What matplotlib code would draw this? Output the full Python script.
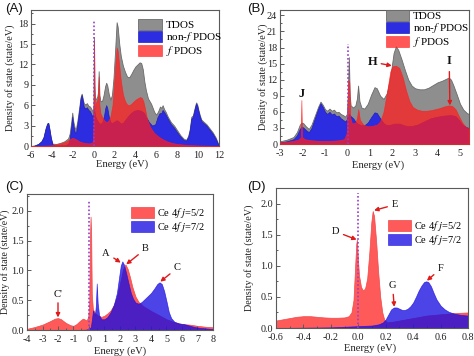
import matplotlib
matplotlib.use('Agg')
import matplotlib.pyplot as plt
from matplotlib.ticker import MultipleLocator, FormatStrFormatter

plt.rcParams['font.family'] = ['Liberation Serif', 'DejaVu Serif']
plt.rcParams['mathtext.fontset'] = 'stix'
plt.rcParams['axes.unicode_minus'] = False

# ---------------- Panel A data (energy eV, DOS state/eV) ----------------
a_tdos_x = [-6, -5.7, -5.3, -5.0, -4.8, -4.6, -4.45, -4.35, -4.25, -4.1, -3.95, -3.6, -3.2, -2.8, -2.45,
            -2.3, -2.15, -2.05, -1.95, -1.8, -1.7, -1.55, -1.4, -1.25, -1.15, -1.05, -0.95, -0.8, -0.65,
            -0.5, -0.35, -0.2, -0.08, -0.02, 0.03, 0.08, 0.13, 0.25, 0.35, 0.42, 0.48, 0.55, 0.65, 0.8,
            0.95, 1.1, 1.2, 1.3, 1.45, 1.6, 1.75, 1.9, 2.05, 2.2, 2.3, 2.45, 2.6, 2.8, 3.0, 3.2, 3.4, 3.6,
            3.8, 4.0, 4.2, 4.4, 4.55, 4.7, 4.85, 5.0, 5.2, 5.5, 5.8, 6.0, 6.2, 6.35, 6.5, 6.6, 6.75, 6.9,
            7.1, 7.4, 7.7, 8.0, 8.3, 8.6, 8.85, 9.05, 9.2, 9.35, 9.5, 9.65, 9.8, 9.9, 10.0, 10.15, 10.3,
            10.5, 10.8, 11.1, 11.4, 11.7, 11.9, 12.0]
a_tdos_y = [0, 0.05, 0.3, 0.7, 1.3, 2.6, 3.3, 3.4, 2.6, 1.2, 0.35, 0.3, 0.45, 0.7, 1.1,
            1.8, 3.5, 4.9, 3.6, 2.6, 2.5, 3.8, 5.5, 7.2, 7.7, 7.0, 6.3, 6.1, 6.3,
            5.9, 5.8, 5.4, 5.0, 6.0, 16.0, 9.0, 6.8, 7.0, 7.3, 8.0, 11.0, 7.5, 6.6, 6.6,
            7.5, 8.8, 9.3, 8.9, 7.6, 6.8, 7.5, 10.0, 14.0, 18.2, 17.5, 15.0, 13.2, 11.8, 10.9, 10.2, 10.1, 10.6,
            11.2, 11.7, 12.0, 12.3, 12.2, 11.3, 9.5, 8.2, 7.0, 6.2, 5.0, 4.6, 5.2, 5.8, 5.6, 6.0, 5.4, 5.0,
            4.3, 3.5, 3.0, 2.3, 1.6, 1.1, 0.9, 1.5, 2.5, 4.3, 4.5, 5.5, 6.4, 6.2, 5.5, 4.6, 3.9,
            3.6, 3.2, 2.6, 2.0, 1.2, 0.4, 0.0]

a_nonf_x = [-6, -5.7, -5.3, -5.0, -4.8, -4.6, -4.45, -4.35, -4.25, -4.1, -3.95, -3.6, -3.2, -2.8, -2.45,
            -2.3, -2.15, -2.05, -1.95, -1.8, -1.7, -1.55, -1.4, -1.25, -1.15, -1.05, -0.95, -0.8, -0.65,
            -0.5, -0.35, -0.2, -0.08, -0.02, 0.03, 0.13, 0.25, 0.4, 0.55, 0.7, 0.85, 1.0, 1.1, 1.2, 1.3,
            1.45, 1.6, 1.8, 2.0, 2.2, 2.4, 2.6, 2.8, 3.0, 3.3, 3.6, 3.9, 4.2, 4.5, 4.8, 5.0, 5.3, 5.6,
            5.9, 6.1, 6.3, 6.5, 6.6, 6.75, 6.9, 7.1, 7.4, 7.7, 8.0, 8.3, 8.6, 8.85, 9.05, 9.2, 9.35, 9.5,
            9.65, 9.8, 9.9, 10.0, 10.15, 10.3, 10.5, 10.8, 11.1, 11.4, 11.7, 11.9, 12.0]
a_nonf_y = [0, 0.05, 0.3, 0.7, 1.3, 2.6, 3.3, 3.4, 2.6, 1.2, 0.25, 0.1, 0.1, 0.1, 0.3,
            1.0, 2.8, 4.3, 3.0, 2.0, 1.9, 3.3, 5.0, 7.0, 7.5, 6.7, 5.8, 5.5, 5.7,
            5.3, 5.1, 4.6, 4.2, 4.8, 5.5, 4.5, 4.0, 3.6, 3.3, 3.3, 3.6, 4.5, 5.5, 6.0, 5.6,
            4.3, 3.5, 3.4, 3.6, 3.8, 3.6, 3.3, 3.4, 3.8, 4.4, 4.9, 5.2, 5.3, 5.2, 4.9, 4.3, 3.5, 3.0,
            3.2, 4.2, 4.8, 4.9, 5.3, 5.0, 4.6, 4.0, 3.2, 2.7, 2.0, 1.4, 0.9, 0.8, 1.3, 2.3, 4.0, 4.3,
            5.3, 6.2, 6.0, 5.3, 4.4, 3.7, 3.4, 3.0, 2.4, 1.8, 1.0, 0.3, 0.0]

a_f_x = [-6, -5, -4, -3.5, -3.0, -2.6, -2.3, -2.0, -1.7, -1.4, -1.0, -0.6, -0.3, -0.08, -0.02, 0.03,
         0.08, 0.13, 0.25, 0.35, 0.42, 0.48, 0.55, 0.65, 0.8, 1.0, 1.2, 1.4, 1.6, 1.8, 1.95, 2.1, 2.2,
         2.3, 2.45, 2.6, 2.8, 3.0, 3.2, 3.4, 3.6, 3.8, 4.0, 4.2, 4.45, 4.6, 4.75, 4.9, 5.1, 5.4, 5.8,
         6.2, 6.6, 7.0, 7.5, 8.0, 9.0, 10.0, 12.0]
a_f_y = [0, 0.02, 0.1, 0.3, 0.45, 0.7, 1.0, 1.2, 1.0, 0.7, 0.5, 0.4, 0.4, 0.6, 3.0, 15.5,
         8.0, 5.5, 6.5, 6.8, 7.5, 10.2, 6.0, 4.8, 4.3, 3.8, 3.5, 3.7, 4.3, 6.0, 9.0, 12.5, 14.5,
         14.0, 11.8, 9.6, 7.6, 6.6, 6.1, 6.0, 6.2, 6.5, 6.8, 7.0, 7.2, 7.1, 6.6, 5.6, 4.0, 2.8, 1.9,
         1.4, 1.0, 0.7, 0.45, 0.3, 0.15, 0.08, 0.0]

# ---------------- Panel B data ----------------
b_tdos_x = [-3.0, -2.7, -2.4, -2.25, -2.12, -2.05, -1.97, -1.85, -1.72, -1.6, -1.45, -1.3, -1.2, -1.1,
            -1.0, -0.9, -0.8, -0.7, -0.6, -0.5, -0.4, -0.3, -0.2, -0.1, -0.03, 0.02, 0.06, 0.1, 0.14,
            0.25, 0.35, 0.42, 0.47, 0.53, 0.62, 0.75, 0.9, 1.05, 1.2, 1.3, 1.45, 1.6, 1.75, 1.9, 2.05,
            2.15, 2.25, 2.4, 2.55, 2.7, 2.85, 3.0, 3.2, 3.4, 3.6, 3.8, 4.0, 4.2, 4.4, 4.5, 4.6, 4.7,
            4.85, 5.0, 5.15, 5.3, 5.5]
b_tdos_y = [0.5, 0.8, 1.3, 2.2, 3.6, 4.0, 3.9, 3.3, 2.8, 3.6, 5.3, 7.0, 7.9, 7.3,
            6.5, 6.2, 6.6, 6.2, 6.4, 5.9, 6.0, 5.6, 5.4, 5.1, 5.6, 10.0, 16.2, 9.0, 7.2,
            6.8, 7.2, 8.5, 10.9, 8.0, 6.8, 6.6, 7.5, 9.2, 10.6, 10.4, 9.0, 8.4, 9.5, 12.5, 17.0,
            18.2, 17.6, 15.8, 13.8, 12.0, 10.9, 10.4, 10.2, 10.2, 10.5, 11.0, 11.5, 11.8, 12.2, 12.4, 12.0, 11.0,
            9.3, 7.5, 6.4, 5.8, 5.3]

b_nonf_x = [-3.0, -2.7, -2.4, -2.25, -2.12, -2.05, -1.97, -1.85, -1.72, -1.6, -1.45, -1.3, -1.2, -1.1,
            -1.0, -0.9, -0.8, -0.7, -0.6, -0.5, -0.4, -0.3, -0.2, -0.1, -0.03, 0.02, 0.06, 0.14, 0.25,
            0.35, 0.45, 0.6, 0.75, 0.9, 1.05, 1.2, 1.3, 1.45, 1.6, 1.75, 1.9, 2.1, 2.3, 2.5, 2.7, 2.9,
            3.1, 3.4, 3.7, 4.0, 4.3, 4.6, 4.8, 4.95, 5.1, 5.3, 5.5]
b_nonf_y = [0.3, 0.5, 0.9, 1.6, 2.8, 3.2, 3.1, 2.6, 2.2, 3.0, 4.8, 6.6, 7.6, 6.9,
            6.0, 5.6, 6.0, 5.5, 5.7, 5.2, 5.3, 4.8, 4.5, 4.2, 4.6, 5.4, 5.6, 5.2, 4.8,
            4.2, 3.8, 3.5, 3.5, 4.0, 5.0, 5.9, 5.8, 4.8, 3.9, 3.5, 3.6, 3.8, 3.8, 3.5, 3.3, 3.4,
            3.6, 4.2, 4.8, 5.1, 5.3, 5.4, 5.2, 4.5, 3.6, 3.1, 2.9]

b_f_x = [-3.0, -2.7, -2.4, -2.2, -2.08, -2.05, -2.02, -1.9, -1.6, -1.3, -1.0, -0.7, -0.4, -0.15, -0.04,
         0.0, 0.04, 0.08, 0.12, 0.2, 0.35, 0.42, 0.48, 0.55, 0.7, 0.9, 1.1, 1.3, 1.45, 1.6, 1.75, 1.9,
         2.0, 2.15, 2.3, 2.45, 2.6, 2.75, 2.9, 3.1, 3.3, 3.5, 3.7, 3.9, 4.1, 4.3, 4.5, 4.65, 4.8, 4.95,
         5.1, 5.25, 5.5]
b_f_y = [0.3, 0.4, 0.6, 0.8, 1.2, 8.2, 1.3, 0.9, 0.7, 0.6, 0.6, 0.6, 0.7, 0.9, 2.0,
         6.0, 12.0, 11.5, 5.0, 3.8, 4.0, 4.8, 6.5, 4.5, 3.6, 3.3, 3.4, 3.6, 4.2, 6.0, 9.5, 13.5,
         14.5, 14.6, 14.2, 12.5, 10.0, 8.0, 6.9, 6.4, 6.2, 6.2, 6.3, 6.5, 6.7, 7.0, 7.2, 7.1, 6.5, 5.2,
         4.0, 3.2, 2.6]

# ---------------- Panel C data ----------------
c_j52_x = [-4.0, -3.5, -3.0, -2.5, -2.2, -2.0, -1.8, -1.5, -1.2, -1.0, -0.8, -0.6, -0.4, -0.3, -0.15,
           -0.05, 0.02, 0.06, 0.1, 0.14, 0.18, 0.25, 0.4, 0.6, 0.8, 1.0, 1.2, 1.4, 1.6, 1.8, 2.0, 2.2,
           2.35, 2.5, 2.65, 2.8, 3.0, 3.2, 3.5, 4.0, 4.5, 5.0, 5.5, 6.0, 6.5, 7.0, 7.5, 8.0]
c_j52_y = [0.02, 0.05, 0.09, 0.15, 0.19, 0.2, 0.18, 0.12, 0.08, 0.07, 0.1, 0.15, 0.19, 0.18, 0.16,
           0.22, 0.5, 1.5, 1.9, 1.6, 0.6, 0.35, 0.28, 0.24, 0.22, 0.24, 0.28, 0.33, 0.42, 0.55, 0.78, 1.02,
           1.1, 1.02, 0.88, 0.72, 0.56, 0.47, 0.4, 0.32, 0.25, 0.18, 0.13, 0.1, 0.09, 0.07, 0.055, 0.045]

c_j72_x = [-4.0, -1.0, -0.2, 0.0, 0.12, 0.2, 0.26, 0.32, 0.38, 0.44, 0.5, 0.56, 0.65, 0.8, 1.0, 1.2,
           1.4, 1.6, 1.8, 1.95, 2.05, 2.15, 2.25, 2.4, 2.55, 2.7, 2.85, 3.0, 3.2, 3.4, 3.6, 3.8, 4.0,
           4.2, 4.4, 4.55, 4.7, 4.85, 5.0, 5.15, 5.3, 5.5, 5.8, 6.1, 6.4, 6.8, 7.2, 7.6, 8.0]
c_j72_y = [0.0, 0.0, 0.005, 0.02, 0.05, 0.2, 0.33, 0.28, 0.25, 0.4, 0.78, 0.45, 0.25, 0.18, 0.18, 0.22,
           0.3, 0.42, 0.62, 0.9, 1.08, 1.15, 1.1, 0.95, 0.78, 0.62, 0.52, 0.46, 0.44, 0.47, 0.52, 0.57, 0.62,
           0.69, 0.77, 0.8, 0.77, 0.65, 0.48, 0.3, 0.2, 0.14, 0.11, 0.1, 0.08, 0.05, 0.035, 0.025, 0.015]

# ---------------- Panel D data ----------------
d_j52_x = [-0.6, -0.55, -0.5, -0.45, -0.4, -0.35, -0.3, -0.25, -0.2, -0.15, -0.1, -0.07, -0.05, -0.035,
           -0.025, -0.015, -0.01, -0.005, 0.005, 0.02, 0.035, 0.05, 0.065, 0.08, 0.095, 0.105, 0.115,
           0.13, 0.145, 0.16, 0.175, 0.19, 0.21, 0.25, 0.3, 0.4, 0.5, 0.6, 0.7, 0.8]
d_j52_y = [0.12, 0.14, 0.16, 0.18, 0.19, 0.19, 0.18, 0.17, 0.165, 0.165, 0.17, 0.19, 0.25, 0.45,
           0.9, 1.35, 1.42, 1.2, 0.85, 0.66, 0.6, 0.64, 0.8, 1.2, 1.7, 1.88, 1.8,
           1.4, 0.9, 0.5, 0.25, 0.13, 0.09, 0.1, 0.12, 0.16, 0.2, 0.22, 0.24, 0.25]

d_j72_x = [-0.6, -0.4, -0.2, -0.1, 0.0, 0.1, 0.15, 0.18, 0.2, 0.22, 0.24, 0.26, 0.28, 0.3, 0.32, 0.34,
           0.36, 0.38, 0.4, 0.42, 0.44, 0.46, 0.48, 0.495, 0.51, 0.53, 0.55, 0.57, 0.6, 0.63, 0.66, 0.7,
           0.75, 0.8]
d_j72_y = [0.0, 0.005, 0.01, 0.02, 0.03, 0.04, 0.06, 0.09, 0.14, 0.22, 0.3, 0.33, 0.33, 0.31, 0.29, 0.29,
           0.31, 0.35, 0.41, 0.5, 0.6, 0.68, 0.74, 0.75, 0.74, 0.67, 0.56, 0.46, 0.36, 0.3, 0.26, 0.23,
           0.21, 0.2]

legend_AB = ['TDOS', 'non-$f$ PDOS', '$f$ PDOS']
legend_CD = ['Ce 4$f$ $j$=5/2', 'Ce 4$f$ $j$=7/2']

# ---------------- styling ----------------
GRAY = '#8e8e8e'
BLUE = '#2c2ce0'
RED = '#ff1e1e'
C_RED = '#ff5a5a'
C_BLUE = '#1a0fe0'
ARROW = '#e01a1a'
FERMI = '#9a3cc8'
SPINE = '#5a5a5a'

W, H = 474, 356
fig = plt.figure(figsize=(W / 100, H / 100), dpi=100)


def add_ax(l, t, r, b):
    return fig.add_axes([l / W, 1 - b / H, (r - l) / W, (b - t) / H])


def style(ax, xlim, ylim, xmaj, xmin, ymaj, ymin, xfmt=None, yfmt=None):
    ax.set_xlim(*xlim)
    ax.set_ylim(*ylim)
    ax.xaxis.set_major_locator(MultipleLocator(xmaj))
    ax.xaxis.set_minor_locator(MultipleLocator(xmin))
    ax.yaxis.set_major_locator(MultipleLocator(ymaj))
    ax.yaxis.set_minor_locator(MultipleLocator(ymin))
    if xfmt:
        ax.xaxis.set_major_formatter(FormatStrFormatter(xfmt))
    if yfmt:
        ax.yaxis.set_major_formatter(FormatStrFormatter(yfmt))
    for s in ax.spines.values():
        s.set_color(SPINE)
        s.set_linewidth(0.8)
    ax.tick_params(which='both', direction='in', color=SPINE, labelcolor='#222222',
                   labelsize=7.3, width=0.7)
    ax.tick_params(which='major', length=3)
    ax.tick_params(which='minor', length=1.6)
    ax.tick_params(axis='x', pad=3.5)
    ax.tick_params(axis='y', pad=2)


def labels(ax, xl, yl, xpos, ypos, ysize=7.3):
    ax.set_xlabel('Energy (eV)', fontsize=7.6, color='#222222', va='top')
    ax.set_ylabel('Density of state (state/eV)', fontsize=ysize, color='#222222')
    ax.xaxis.set_label_coords(xpos, xl)
    ax.yaxis.set_label_coords(yl, ypos)


def arrow(ax, txt, xy, xyt, size=7.6, weight='normal'):
    ax.annotate(txt, xy=xy, xytext=xyt, ha='center', va='center', fontsize=size,
                fontweight=weight, color='#111111', zorder=10,
                arrowprops=dict(arrowstyle='-|>', color=ARROW, lw=1.0, mutation_scale=6,
                                shrinkA=1, shrinkB=0))


axA = add_ax(31, 10, 219, 146)
axB = add_ax(280, 10, 469, 144)
axC = add_ax(27, 194, 213, 330)
axD = add_ax(276, 188, 468, 328)

# Panels A and B
for ax, tx, ty, nx, ny, fx, fy in [
        (axA, a_tdos_x, a_tdos_y, a_nonf_x, a_nonf_y, a_f_x, a_f_y),
        (axB, b_tdos_x, b_tdos_y, b_nonf_x, b_nonf_y, b_f_x, b_f_y)]:
    ax.fill_between(tx, ty, facecolor=GRAY, edgecolor='#6a6a6a', lw=0.6, zorder=1, label=legend_AB[0])
    ax.fill_between(nx, ny, facecolor=BLUE, edgecolor='#2020b8', lw=0.5, zorder=2, label=legend_AB[1])
    ax.fill_between(fx, fy, facecolor=RED, edgecolor=RED, alpha=0.75, lw=0.5, zorder=3, label=legend_AB[2])

style(axA, (-6, 12), (0, 20), 2, 1, 3, 1.5)
style(axB, (-3, 5.4), (0, 25), 1, 0.5, 3, 1.5)
axA.axvline(0, ymin=0, ymax=18.5 / 20, color=FERMI, ls=(0, (1, 1.3)), lw=1.2, zorder=5)
axB.axvline(0, ymin=0, ymax=18.6 / 25, color=FERMI, ls=(0, (1, 1.3)), lw=1.2, zorder=5)

# Panel C
axC.fill_between(c_j52_x, c_j52_y, facecolor=C_RED, edgecolor='#f04848', lw=0.5, zorder=1, label=legend_CD[0])
axC.fill_between(c_j72_x, c_j72_y, facecolor=C_BLUE, edgecolor=C_BLUE, alpha=0.78, lw=0.5, zorder=2,
                 label=legend_CD[1])
style(axC, (-4, 8), (0, 2.28), 1, 0.5, 0.5, 0.25, yfmt='%.1f')
axC.axvline(0, ymin=0, ymax=2.17 / 2.28, color=FERMI, ls=(0, (1, 1.3)), lw=1.2, zorder=5)

# Panel D
axD.fill_between(d_j52_x, d_j52_y, facecolor=C_RED, edgecolor='#f04848', lw=0.5, zorder=1, label=legend_CD[0])
axD.fill_between(d_j72_x, d_j72_y, facecolor=C_BLUE, edgecolor=C_BLUE, alpha=0.78, lw=0.5, zorder=2,
                 label=legend_CD[1])
style(axD, (-0.6, 0.8), (0, 2.25), 0.2, 0.1, 0.5, 0.25, xfmt='%.1f', yfmt='%.1f')
axD.axvline(0, ymin=0, ymax=2.17 / 2.25, color=FERMI, ls=(0, (1, 1.3)), lw=1.2, zorder=5)

# Axis labels
labels(axA, -0.1, -0.085, 0.487, 0.5)
labels(axB, -0.125, -0.065, 0.52, 0.5)
labels(axC, -0.118, -0.094, 0.5, 0.5, ysize=7.1)
labels(axD, -0.107, -0.115, 0.49, 0.5)

# Legends
leg_kw = dict(frameon=False, loc='upper left', labelspacing=0.0, handletextpad=0.3,
              borderpad=0.0, borderaxespad=0.0)
axA.legend(fontsize=8, handlelength=2.2, handleheight=1.15, bbox_to_anchor=(0.569, 0.934), **leg_kw)
axB.legend(fontsize=8, handlelength=2.1, handleheight=1.1, bbox_to_anchor=(0.561, 1.0), **leg_kw)
axC.legend(fontsize=7.5, handlelength=2.2, handleheight=1.15, bbox_to_anchor=(0.559, 0.912), **leg_kw)
axD.legend(fontsize=7.5, handlelength=2.2, handleheight=1.15, bbox_to_anchor=(0.583, 0.779), **leg_kw)

# Annotations
axB.text(-2.04, 9.3, 'J', ha='center', va='center', fontsize=9, fontweight='bold', color='#111111')
arrow(axB, 'H', (1.97, 14.6), (1.1, 15.3), size=9, weight='bold')
arrow(axB, 'I', (4.55, 7.2), (4.52, 15.4), size=9, weight='bold')

arrow(axC, "C'", (-2.0, 0.21), (-2.0, 0.6))
arrow(axC, 'A', (2.05, 1.13), (1.1, 1.29))
arrow(axC, 'B', (2.4, 1.1), (3.65, 1.36))
arrow(axC, 'C', (4.6, 0.81), (5.7, 1.04))

arrow(axD, 'D', (-0.012, 1.42), (-0.165, 1.55))
arrow(axD, 'E', (0.115, 1.89), (0.265, 1.98))
arrow(axD, 'G', (0.262, 0.34), (0.25, 0.68))
arrow(axD, 'F', (0.5, 0.76), (0.6, 0.95))

# Panel labels
for txt, px, py in [('(A)', 5, 3), ('(B)', 247, 3), ('(C)', 5, 181), ('(D)', 247, 181)]:
    fig.text(px / W, 1 - py / H, txt, ha='left', va='top', fontsize=9.5,
             family=['Liberation Sans', 'DejaVu Sans'], color='#111111')

fig.savefig('out.png', dpi=100)
